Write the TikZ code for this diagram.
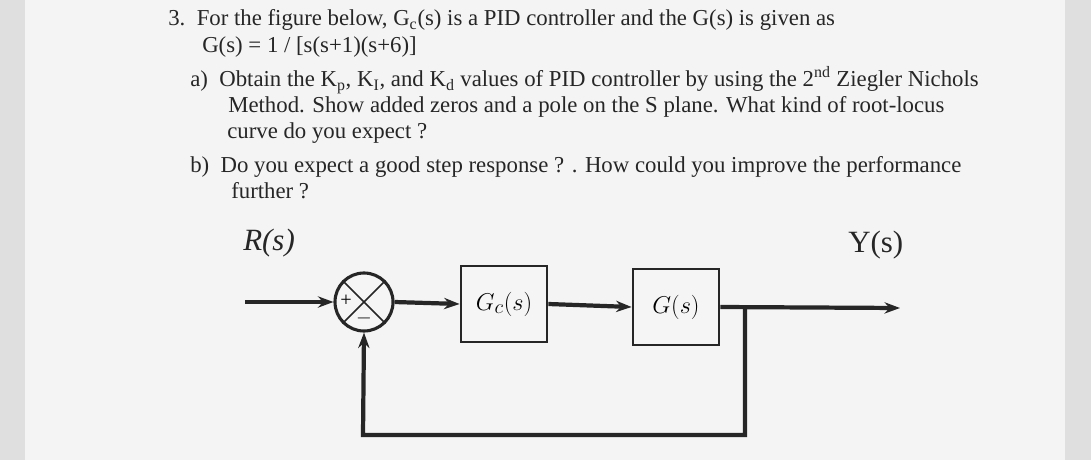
\documentclass[tikz,border=0pt]{standalone}
\usepackage{fontspec}
\setmainfont{Liberation Serif}
\usetikzlibrary{arrows.meta}
\begin{document}
\begin{tikzpicture}[x=0.025cm,y=-0.025cm,
  txt/.style={anchor=west,inner sep=0pt,font=\fontsize{16.2}{18}\selectfont,text=black!85},
  blk/.style={draw=black!85,line width=2pt,minimum width=2.15cm,minimum height=1.9cm,fill=gray!8,font=\fontsize{19}{20}\selectfont},
  sig/.style={line width=3pt,draw=black!85,-{Stealth[length=11pt,width=8pt]}},
  ln/.style={line width=3pt,draw=black!85}]
\fill[gray!25] (0,0) rectangle (1091,460);
\fill[gray!9] (25,0) rectangle (1065,460);
\useasboundingbox (0,0) rectangle (1091,460);
\node[txt] (l1) at (168,20) {3.\enspace For the figure below, G\textsubscript{c}(s) is a PID controller and the G(s) is given as};
\node[txt] (l2) at (202,47) {G(s) = 1 / [s(s+1)(s+6)]};
\node[txt] (l3) at (190,80) {a)\enspace Obtain the K\textsubscript{p}, K\textsubscript{I}, and K\textsubscript{d} values of PID controller by using the 2\textsuperscript{nd} Ziegler Nichols};
\node[txt] (l4) at (228,107) {Method. Show added zeros and a pole on the S plane. What kind of root-locus};
\node[txt] (l5) at (227,133) {curve do you expect ?};
\node[txt] (l6) at (190,167) {b)\enspace Do you expect a good step response ? . How could you improve the performance};
\node[txt] (l7) at (231,191) {further ?};
\node[txt,font=\fontsize{22}{24}\selectfont\itshape] (r) at (243,243) {R(s)};
\node[txt,font=\fontsize{22}{24}\selectfont] (y) at (848,245) {Y(s)};
\node[draw=black!85,line width=2.2pt,circle,minimum size=1.45cm,inner sep=0pt,fill=gray!8] (sum) at (364,302) {};
\draw[line width=1.2pt,black!85] (sum.north west)--(sum.south east) (sum.north east)--(sum.south west);
\node[font=\Large] (plus) at (346,301) {+};
\node[font=\Large] (minus) at (364,318) {$-$};
\node[blk] (gc) at (504,304) {$G_c(s)$};
\node[blk] (g) at (676,307) {$G(s)$};
\coordinate (in) at (245,302);
\coordinate (out) at (900,308);
\coordinate (tap) at (745,308);
\coordinate (fb1) at (745,435);
\coordinate (fb2) at (363,435);
\draw[sig] (in) -- (sum.west);
\draw[sig] (sum.east) -- (gc.west);
\draw[sig] (gc.east) -- (g.west);
\draw[sig] (g.east) -- (out);
\draw[ln,-{Stealth[length=11pt,width=8pt]}] (tap) -- (fb1) -- (fb2) -- (sum.south);
\end{tikzpicture}
\end{document}
